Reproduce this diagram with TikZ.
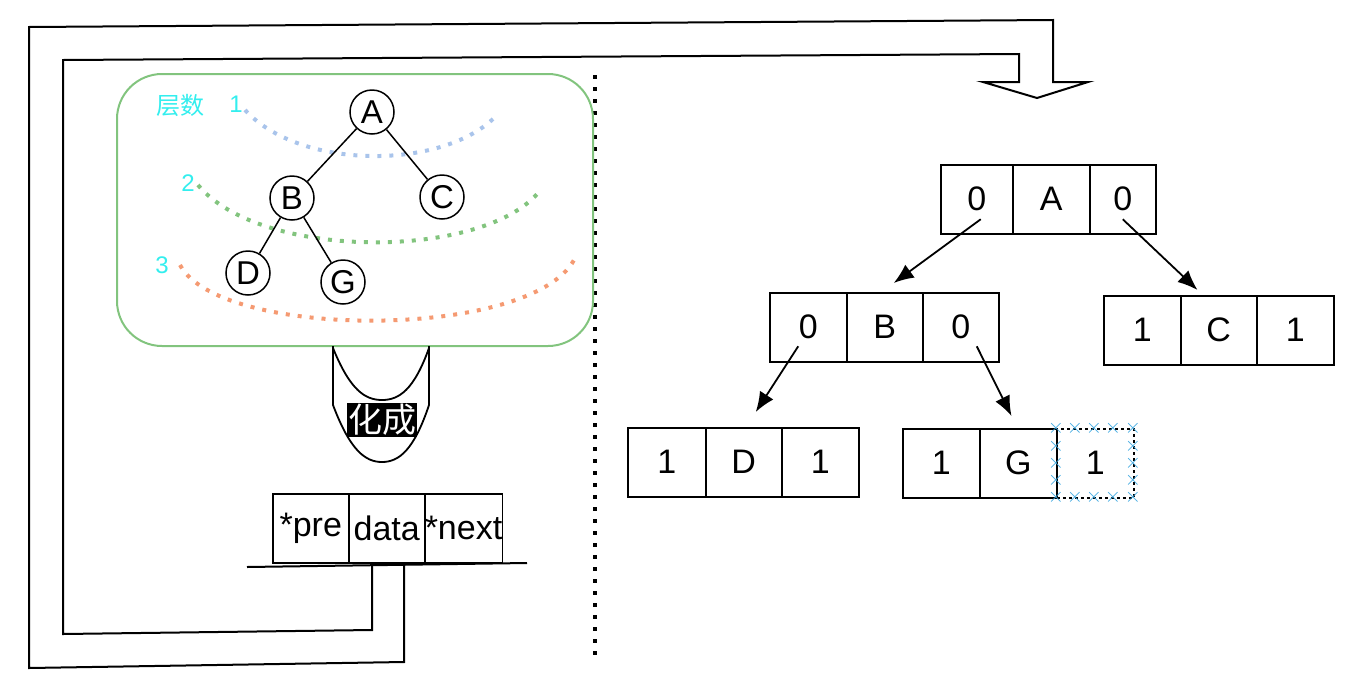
\documentclass[tikz,border=0pt]{standalone}
\usepackage{fontspec}
\usetikzlibrary{arrows.meta}
\setmainfont{Liberation Sans}
\newfontfamily\cjk{Noto Sans CJK SC}
\definecolor{pgreen}{HTML}{82C47E}
\definecolor{lblue}{HTML}{A9C4EB}
\definecolor{lorange}{HTML}{F59A72}
\definecolor{lcyan}{HTML}{33EEEE}
\definecolor{xblue}{HTML}{3BA7E0}
\begin{document}
\begin{tikzpicture}[x=1pt,y=-1pt,
  cell/.style={draw,line width=1.5pt,minimum width=77pt,minimum height=69pt,inner sep=0pt,font=\fontsize{34}{36}\selectfont,anchor=north west},
  tn/.style={draw,circle,line width=1.5pt,minimum size=44pt,inner sep=0pt,font=\fontsize{33}{35}\selectfont},
  ed/.style={line width=1.5pt},
  arr/.style={line width=1.8pt,-{Latex[length=20pt,width=16pt]}},
  lvl/.style={line width=4pt,dash pattern=on 4pt off 8pt},
  lab/.style={text=lcyan,font=\fontsize{24}{26}\selectfont}]
\useasboundingbox (0,0) rectangle (1366,686);
% big frame arrow
\coordinate (f1) at (372,565);
\coordinate (f2) at (404,565);
\draw[line width=2pt,line join=miter] (f1) -- (372,630) -- (63,634) -- (63,60) -- (1019,54) -- (1019,82) -- (983,82) -- (1037,98) -- (1088,82) -- (1053,82) -- (1053,20) -- (29,27) -- (29,668) -- (404,662) -- (f2);
% separator
\draw[line width=4pt,dash pattern=on 4pt off 8pt] (595,75) -- (595,655);
% green panel
\node[draw=pgreen,line width=2pt,rounded corners=45pt,minimum width=476pt,minimum height=272pt,anchor=north west] (panel) at (116,73) {};
% level arcs
\draw[lvl,lblue] (245,110) .. controls (300,170) and (440,170) .. (494,118);
\draw[lvl,pgreen] (198,185) .. controls (260,260) and (480,260) .. (538,193);
\draw[lvl,lorange] (180,265) .. controls (220,340) and (530,340) .. (574,260);
\node[lab,font=\cjk\fontsize{24}{26}\selectfont] (ls) at (180,105) {层数};
\node[lab] (l1) at (236,104) {1};
\node[lab] (l2) at (188,183) {2};
\node[lab] (l3) at (162,265) {3};
% tree
\node[tn,fill=white] (A) at (372,112) {A};
\node[tn,fill=white] (B) at (292,198) {B};
\node[tn,fill=white] (C) at (442,197) {C};
\node[tn,fill=white] (D) at (248,273) {D};
\node[tn,fill=white] (G) at (343,282) {G};
\draw[ed] (A) -- (B); \draw[ed] (A) -- (C);
\draw[ed] (B) -- (D); \draw[ed] (B) -- (G);
% funnel
\draw[line width=1.8pt] (333,346) -- (333,405) .. controls (350,450) and (365,462) .. (382,462) .. controls (399,462) and (414,450) .. (429,405) -- (429,346);
\draw[line width=1.8pt] (333,348) .. controls (350,390) and (365,400) .. (382,400) .. controls (399,400) and (414,390) .. (429,348);
\node[fill=black,text=white,inner sep=1pt,font=\cjk\fontsize{34}{36}\selectfont] (hc) at (382,420) {化成};
% list node
\node[cell,minimum width=76pt] (pre) at (272,493) {*pre};
\node[cell,minimum width=76pt] (dat) at (348,493) {data};
\node[cell,minimum width=77pt] (nxt) at (424,493) {*next};
\coordinate (u1) at (247,567);
\coordinate (u2) at (527,563);
\draw[line width=2pt] (u1) -- (u2);
% right boxes
\node[cell,minimum width=72pt] (a1) at (940,164) {0};
\node[cell,minimum width=77pt] (a2) at (1012,164) {A};
\node[cell,minimum width=66pt] (a3) at (1089,164) {0};
\node[cell] (b1) at (769,292) {0};
\node[cell,minimum width=76pt] (b2) at (846,292) {B};
\node[cell,minimum width=76pt] (b3) at (922,292) {0};
\node[cell] (c1) at (1103,295) {1};
\node[cell,minimum width=76pt] (c2) at (1180,295) {C};
\node[cell] (c3) at (1256,295) {1};
\node[cell,minimum width=78pt] (d1) at (627,427) {1};
\node[cell,minimum width=76pt] (d2) at (705,427) {D};
\node[cell] (d3) at (781,427) {1};
\node[cell] (g1) at (902,428) {1};
\node[cell] (g2) at (979,428) {G};
\node[cell,dashed] (g3) at (1056,428) {1};
\foreach \p in {(1056,428),(1075,428),(1094,428),(1113,428),(1133,428),
  (1056,497),(1075,497),(1094,497),(1113,497),(1133,497),
  (1056,446),(1056,463),(1056,480),(1133,446),(1133,463),(1133,480)}
  \node[text=xblue,font=\fontsize{20}{20}\selectfont,inner sep=0pt] at \p {$\times$};
\draw[arr] ([shift={(4,20)}]a1.center) -- ([shift={(9,-9)}]b2.north);
\draw[arr] ([shift={(0,20)}]a3.center) -- ([shift={(16,-5)}]c1.north east);
\draw[arr] ([shift={(-10,19)}]b1.center) -- ([shift={(12,-15)}]d2.north);
\draw[arr] ([shift={(16,19)}]b3.center) -- ([shift={(31,-12)}]g1.north east);
\end{tikzpicture}
\end{document}
